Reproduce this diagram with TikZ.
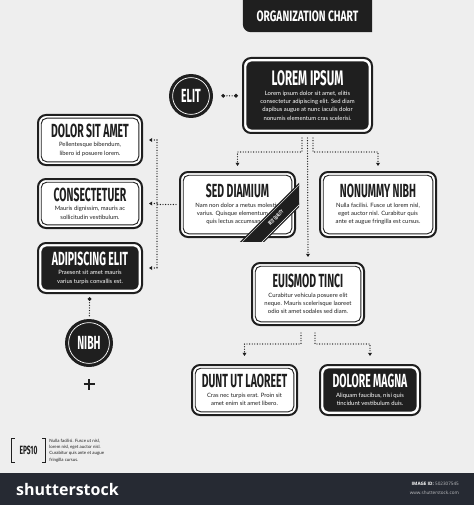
\documentclass[tikz,border=0pt]{standalone}
\usepackage{fontspec}
\setmainfont{Lato}
\newfontfamily\headfont[FakeStretch=0.55]{Fira Sans}
\newfontfamily\tabfont[FakeStretch=0.68]{Fira Sans}
\newfontfamily\bodyfont{Lato}
\newfontfamily\logofont{Open Sans}
\usetikzlibrary{positioning, calc, arrows.meta}

\definecolor{ink}{HTML}{1F1F1F}
\definecolor{paper}{HTML}{EEEEEE}
\definecolor{barcol}{HTML}{262A33}

\newcommand{\headtext}[1]{{\headfont\bfseries\fontsize{19}{19}\selectfont #1}}

\begin{document}
\begin{tikzpicture}[x=1pt,y=-1pt,
		>={Triangle[width=3.8pt,length=3.2pt]},
		dotline/.style={draw=ink, line width=1.35pt, line cap=round, dash pattern=on 0pt off 2.6pt},
		orgbox/.style 2 args={rounded corners=8pt, line width=2pt, draw=ink, fill=white,
			minimum width=#1, minimum height=#2, inner sep=0pt, align=center,
			font=\bodyfont\fontsize{5.9}{8.4}\selectfont},
		lightbox/.style 2 args={orgbox={#1}{#2}, text=ink,
			path picture={\draw[ink, line width=0.9pt, rounded corners=5.5pt]
				([shift={(3.2pt,3.2pt)}]path picture bounding box.south west) rectangle
				([shift={(-3.2pt,-3.2pt)}]path picture bounding box.north east);}},
		darkbox/.style 2 args={orgbox={#1}{#2}, text=white,
			path picture={\fill[ink, rounded corners=5.5pt]
				([shift={(3.3pt,3.3pt)}]path picture bounding box.south west) rectangle
				([shift={(-3.3pt,-3.3pt)}]path picture bounding box.north east);}},
		orb/.style={circle, fill=ink, minimum size=2*#1, inner sep=0pt, text=white,
			path picture={\draw[white, line width=0.7pt] (path picture bounding box.center) circle[radius=#1-3.6pt];}},
		ribbon/.style={fill=ink, draw=white, line width=0.5pt, preaction={draw=ink, line width=3pt},
			minimum width=100pt, minimum height=14pt, inner sep=0pt, text=white,
			font=\headfont\bfseries\fontsize{5.5}{5.5}\selectfont}]

	\useasboundingbox (0,0) rectangle (474,505);
	\fill[paper] (0,0) rectangle (474,505);

	% title tab
	\node[minimum width=129pt, minimum height=32pt, inner sep=0pt] (chart) at (307.5,16) {};
	\fill[ink] ([yshift=5pt]chart.north west) -- ([yshift=8pt]chart.south west)
		arc[start angle=180, end angle=270, radius=8pt] -- (chart.south east) -- ([yshift=5pt]chart.north east) -- cycle;
	\node[text=white, font=\tabfont\bfseries\fontsize{15}{15}\selectfont] (charttext) at (chart.center) {ORGANIZATION CHART};

	% boxes
	\node[darkbox={129pt}{75pt}] (main) at (307.5,95.5) {{\headfont\bfseries\fontsize{21}{21}\selectfont LOREM IPSUM}\\[1pt]
		Lorem ipsum dolor sit amet, elitis\\ consectetur adipiscing elit. Sed diam\\
		dapibus augue at nunc iaculis dolor\\ nonumis elementum cras scelerisi.};
	\node[orb=22pt] (elit) at (191,96) {\headtext{ELIT}};

	\node[lightbox={104pt}{50pt}] (dolor) at (90,140) {\headtext{DOLOR SIT AMET}\\[1pt]
		Pellentesque bibendum,\\ libero id posuere lorem.};
	\node[lightbox={104pt}{49pt}] (consec) at (90,203.5) {\headtext{CONSECTETUER}\\[1pt]
		Mauris dignissim, mauris ac\\ sollicitudin vestibulum.};
	\node[darkbox={104pt}{50pt}] (adip) at (90,268) {\headtext{ADIPISCING ELIT}\\[1pt]
		Praesent sit amet mauris\\ varius turpis convallis est.};
	\node[orb=24pt] (nibh) at (89,343) {\headtext{NIBH}};

	\node[lightbox={115pt}{65pt}] (sed) at (237.5,204.5) {\headtext{SED DIAMIUM}\\[1pt]
		Nam non dolor a metus molestie\\ varius. Quisque elementum nisi\\ quis lectus accumsan et.};
	\node[lightbox={116pt}{65pt}] (nonummy) at (378,204.5) {\headtext{NONUMMY NIBH}\\[1pt]
		Nulla facilisi. Fusce ut lorem nisl,\\ eget auctor nisl. Curabitur quis\\ ante et augue fringilla est cursus.};
	\node[lightbox={112pt}{62pt}] (euismod) at (308,294) {\headtext{EUISMOD TINCI}\\[1pt]
		Curabitur vehicula posuere elit\\ neque. Mauris scelerisque laoreet\\ odio sit amet sodales sed diam.};
	\node[lightbox={105pt}{50pt}] (dunt) at (244.5,390) {\headtext{DUNT UT LAOREET}\\[1pt]
		Cras nec turpis erat. Proin sit\\ amet enim sit amet libero.};
	\node[darkbox={100pt}{50pt}] (dolore) at (370,390) {\headtext{DOLORE MAGNA}\\[1pt]
		Aliquam faucibus, nisi quis\\ tincidunt vestibulum duis.};

	% corner ribbon
	\begin{scope}
		\clip ([shift={(-1pt,1pt)}]sed.north west) rectangle ([shift={(3pt,-3pt)}]sed.south east);
		\node[ribbon, rotate=45] (badge) at (276,218) {BEST QUALITY};
	\end{scope}

	% connectors
	\draw[dotline, {Circle[length=3.6pt]}-{Circle[length=3.6pt]}, shorten <=8.2pt, shorten >=4.2pt] (elit) -- (main);
	\draw[dotline, ->] ([xshift=-5.5pt,yshift=-4pt]main.south) |- ([yshift=19pt]sed.north) -- ([yshift=5pt]sed.north);
	\draw[dotline, ->] ([xshift=5.5pt,yshift=-4pt]main.south) |- ([yshift=19pt]nonummy.north) -- ([yshift=5pt]nonummy.north);
	\draw[dotline, ->] ([yshift=-4pt]main.south) -- ([yshift=5pt]euismod.north);

	\coordinate (bus) at ([xshift=-22pt]sed.west);
	\draw[dotline] ([xshift=-3pt]sed.west) -- (bus |- sed.west);
	\draw[dotline] (bus |- dolor.east) -- (bus |- adip.east);
	\foreach \n in {dolor,consec,adip}
		\draw[dotline, ->] (bus |- \n.east) -- ([xshift=6pt]\n.east);

	\draw[dotline, {Circle[length=3.6pt]}-, shorten <=3.2pt, shorten >=3pt] (adip) -- (nibh);

	\draw[dotline, ->] ([xshift=-7pt,yshift=-7pt]euismod.south) |- ([yshift=20pt]dunt.north) -- ([yshift=8pt]dunt.north);
	\draw[dotline, ->] ([xshift=7pt,yshift=-7pt]euismod.south) |- ([yshift=20pt]dolore.north) -- ([yshift=8pt]dolore.north);

	\coordinate (plus) at ([yshift=-17pt]nibh.south);
	\draw[ink, line width=2.4pt] ([xshift=-5.5pt]plus) -- ([xshift=5.5pt]plus) ([yshift=-5.5pt]plus) -- ([yshift=5.5pt]plus);

	% eps label
	\node[minimum width=33pt, minimum height=23pt, inner sep=0pt, text=ink,
		font=\headfont\bfseries\fontsize{12}{12}\selectfont] (eps) at (28.5,450.5) {EPS10};
	\draw[ink, line width=1.3pt] ([xshift=3pt]eps.north west) -- (eps.north west) -- (eps.south west) -- ([xshift=3pt]eps.south west);
	\draw[ink, line width=1.3pt] ([xshift=-3pt]eps.north east) -- (eps.north east) -- (eps.south east) -- ([xshift=-3pt]eps.south east);
	\node[right=4pt of eps, align=left, inner sep=0pt, text=ink, font=\bodyfont\fontsize{4.4}{6.3}\selectfont] (epsnote)
		{Nulla facilisi. Fusce ut nisl,\\ lorem nisl, eget auctor nisl.\\ Curabitur quis ante et augue\\ fringilla cursus.};

	% bottom bar
	\fill[barcol] (0,473) rectangle (474,505);
	\node[anchor=base west, inner sep=0pt, text=white, font=\logofont\bfseries\fontsize{16}{16}\selectfont] (logo) at (16,495) {shutterstock};
	\node[anchor=east, inner sep=0pt, text=white, font=\logofont\fontsize{4.6}{4.6}\selectfont] (imgid) at (459,484)
		{\textbf{IMAGE ID:} \textcolor{white!70!barcol}{502307545}};
	\node[anchor=east, inner sep=0pt, text=white!70!barcol, font=\logofont\fontsize{4.6}{4.6}\selectfont] (site) at (459,493)
		{www.shutterstock.com};
\end{tikzpicture}
\end{document}
